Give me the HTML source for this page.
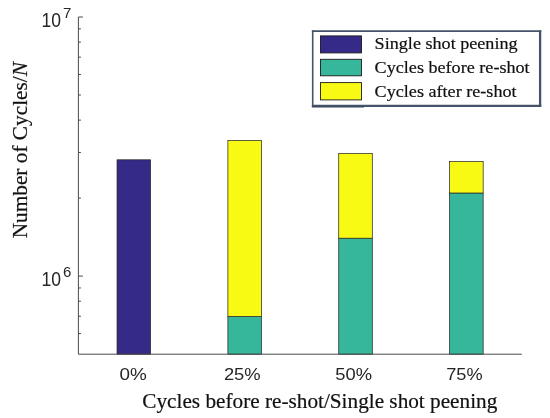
<!DOCTYPE html>
<html><head><meta charset="utf-8"><title>chart</title>
<style>html,body{margin:0;padding:0;background:#fff}svg{display:block}</style></head>
<body>
<svg width="550" height="418" viewBox="0 0 550 418">
<rect width="550" height="418" fill="#fff"/>
<rect x="117.02" y="159.80" width="33.60" height="194.40" fill="#352a87" stroke="#2b2b2b" stroke-width="0.75"/>
<rect x="227.87" y="316.50" width="33.60" height="37.70" fill="#36b79c" stroke="#2b2b2b" stroke-width="0.75"/>
<rect x="227.87" y="140.50" width="33.60" height="176.00" fill="#f8fa13" stroke="#2b2b2b" stroke-width="0.75"/>
<rect x="338.72" y="238.20" width="33.60" height="116.00" fill="#36b79c" stroke="#2b2b2b" stroke-width="0.75"/>
<rect x="338.72" y="153.50" width="33.60" height="84.70" fill="#f8fa13" stroke="#2b2b2b" stroke-width="0.75"/>
<rect x="449.57" y="193.00" width="33.60" height="161.20" fill="#36b79c" stroke="#2b2b2b" stroke-width="0.75"/>
<rect x="449.57" y="161.50" width="33.60" height="31.50" fill="#f8fa13" stroke="#2b2b2b" stroke-width="0.75"/>
<path d="M78.4 17.0V354.2H521.8" fill="none" stroke="#4a4a4a" stroke-width="1"/>
<path d="M78.4 333.58h2.5" stroke="#4a4a4a" stroke-width="1" fill="none"/>
<path d="M78.4 316.24h2.5" stroke="#4a4a4a" stroke-width="1" fill="none"/>
<path d="M78.4 301.21h2.5" stroke="#4a4a4a" stroke-width="1" fill="none"/>
<path d="M78.4 287.96h2.5" stroke="#4a4a4a" stroke-width="1" fill="none"/>
<path d="M78.4 276.10h4.5" stroke="#4a4a4a" stroke-width="1" fill="none"/>
<path d="M78.4 198.10h2.5" stroke="#4a4a4a" stroke-width="1" fill="none"/>
<path d="M78.4 152.48h2.5" stroke="#4a4a4a" stroke-width="1" fill="none"/>
<path d="M78.4 120.11h2.5" stroke="#4a4a4a" stroke-width="1" fill="none"/>
<path d="M78.4 95.00h2.5" stroke="#4a4a4a" stroke-width="1" fill="none"/>
<path d="M78.4 74.48h2.5" stroke="#4a4a4a" stroke-width="1" fill="none"/>
<path d="M78.4 57.14h2.5" stroke="#4a4a4a" stroke-width="1" fill="none"/>
<path d="M78.4 42.11h2.5" stroke="#4a4a4a" stroke-width="1" fill="none"/>
<path d="M78.4 28.86h2.5" stroke="#4a4a4a" stroke-width="1" fill="none"/>
<path d="M78.4 17.00h4.5" stroke="#4a4a4a" stroke-width="1" fill="none"/>
<text transform="translate(61.1 27.10) scale(0.975 1.1)" font-family="Liberation Sans, Arial, sans-serif" font-size="18" fill="#262626" text-anchor="end">10</text>
<text x="63.1" y="17.80" font-family="Liberation Sans, Arial, sans-serif" font-size="15" fill="#262626">7</text>
<text transform="translate(61.1 286.20) scale(0.975 1.1)" font-family="Liberation Sans, Arial, sans-serif" font-size="18" fill="#262626" text-anchor="end">10</text>
<text x="63.1" y="276.90" font-family="Liberation Sans, Arial, sans-serif" font-size="15" fill="#262626">6</text>
<text transform="translate(133.02 380.4) scale(1.11 1)" font-family="Liberation Sans, Arial, sans-serif" font-size="17" fill="#262626" text-anchor="middle">0%</text>
<text transform="translate(242.27 380.4) scale(1.08 1)" font-family="Liberation Sans, Arial, sans-serif" font-size="17" fill="#262626" text-anchor="middle">25%</text>
<text transform="translate(353.72 380.4) scale(1.08 1)" font-family="Liberation Sans, Arial, sans-serif" font-size="17" fill="#262626" text-anchor="middle">50%</text>
<text transform="translate(464.38 380.4) scale(1.07 1)" font-family="Liberation Sans, Arial, sans-serif" font-size="17" fill="#262626" text-anchor="middle">75%</text>
<text transform="translate(319.8 407.7) scale(1 1.025)" font-family="Liberation Serif, Times New Roman, serif" font-size="21.25" fill="#111" stroke="#111" stroke-width="0.2" text-anchor="middle">Cycles before re-shot/Single shot peening</text>
<text transform="translate(27.0 150.2) rotate(-90)" font-family="Liberation Serif, Times New Roman, serif" font-size="21.3" fill="#111" stroke="#111" stroke-width="0.2" text-anchor="middle">Number of Cycles/<tspan font-style="italic">N</tspan></text>
<rect x="312.7" y="31.1" width="227.4" height="74.8" fill="#fff"/>
<path d="M312.7 30.3V107" stroke="#44546a" stroke-width="1.6" fill="none"/>
<path d="M311.9 31.15H541.25" stroke="#44546a" stroke-width="1.7" fill="none"/>
<path d="M540.1 30.3V107" stroke="#44546a" stroke-width="2.3" fill="none"/>
<path d="M311.9 105.85H541.25" stroke="#44546a" stroke-width="2.3" fill="none"/>
<path d="M311.9 106.9H364" stroke="#3b4960" stroke-width="1.2"/>
<rect x="320.5" y="35.90" width="41.0" height="17.00" fill="#352a87" stroke="#1a1a1a" stroke-width="0.9"/>
<text transform="translate(374.6 48.8) scale(1.048 1)" font-family="Liberation Serif, Times New Roman, serif" font-size="17.3" fill="#111" stroke="#111" stroke-width="0.2">Single shot peening</text>
<rect x="320.5" y="59.30" width="41.0" height="16.50" fill="#36b79c" stroke="#1a1a1a" stroke-width="0.9"/>
<text transform="translate(374.6 73.0) scale(1.048 1)" font-family="Liberation Serif, Times New Roman, serif" font-size="17.3" fill="#111" stroke="#111" stroke-width="0.2">Cycles before re-shot</text>
<rect x="320.5" y="82.60" width="41.0" height="17.30" fill="#f8fa13" stroke="#1a1a1a" stroke-width="0.9"/>
<text transform="translate(374.6 96.6) scale(1.048 1)" font-family="Liberation Serif, Times New Roman, serif" font-size="17.3" fill="#111" stroke="#111" stroke-width="0.2">Cycles after re-shot</text>
</svg>
</body></html>
